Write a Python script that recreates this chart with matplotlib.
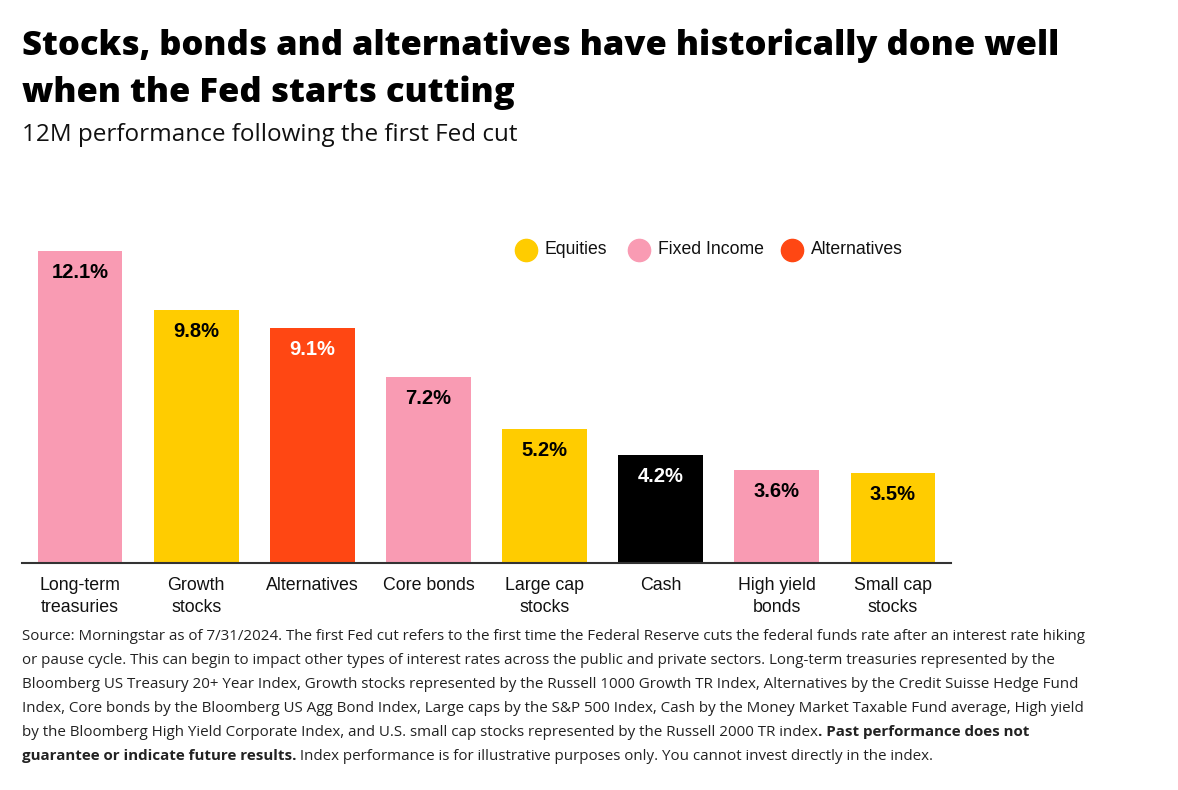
import matplotlib
matplotlib.use("Agg")
import matplotlib.pyplot as plt
from matplotlib.lines import Line2D

categories = ["Long-term\ntreasuries", "Growth\nstocks", "Alternatives", "Core bonds",
              "Large cap\nstocks", "Cash", "High yield\nbonds", "Small cap\nstocks"]
values = [12.1, 9.8, 9.1, 7.2, 5.2, 4.2, 3.6, 3.5]
groups = ["Fixed Income", "Equities", "Alternatives", "Fixed Income",
          "Equities", "Cash", "Fixed Income", "Equities"]
legend_items = ["Equities", "Fixed Income", "Alternatives"]

colors = {"Equities": "#FFCC00", "Fixed Income": "#F99BB3",
          "Alternatives": "#FF4713", "Cash": "#000000"}
label_colors = {"Equities": "black", "Fixed Income": "black",
                "Alternatives": "white", "Cash": "white"}

W, H = 1178, 790
fig = plt.figure(figsize=(W / 100, H / 100), dpi=100)
fig.patch.set_facecolor("white")

ax = fig.add_axes([22 / W, (H - 563) / H, 929 / W, (563 - 227.7) / H])
x = range(len(values))
ax.bar(x, values, width=0.73, color=[colors[g] for g in groups])
ax.set_xlim(-0.5, len(values) - 0.5)
ax.set_ylim(0, 13)

for i, v in enumerate(values):
    ax.annotate(f"{v}%", (i, v), xytext=(0, -15.5), textcoords="offset points",
                ha="center", va="center", fontsize=14.5, fontweight="bold",
                family="Liberation Sans", color=label_colors[groups[i]])

for s in ["top", "right", "left"]:
    ax.spines[s].set_visible(False)
ax.spines["bottom"].set_color("#333333")
ax.spines["bottom"].set_linewidth(1.5)
ax.set_yticks([])
ax.set_xticks(list(x))
ax.set_xticklabels(categories, fontsize=12.8, family="Liberation Sans",
                   color="#111111", linespacing=1.4)
ax.tick_params(axis="x", length=0, pad=10)

# legend
leg_x = [526, 639, 792]
for name, lx in zip(legend_items, leg_x):
    fig.add_artist(Line2D([lx / W], [(H - 250) / H], marker="o", markersize=16,
                          color=colors[name], transform=fig.transFigure, linestyle="none"))
    fig.text((lx + 19) / W, (H - 250) / H, name, fontsize=12.7, family="Liberation Sans",
             color="#111111", va="center", ha="left")

# title
fig.text(22 / W, (H - 55) / H, "Stocks, bonds and alternatives have historically done well",
         fontsize=24.8, fontweight=800, family="Open Sans", va="baseline", ha="left", color="black")
fig.text(22 / W, (H - 102) / H, "when the Fed starts cutting",
         fontsize=24.8, fontweight=800, family="Open Sans", va="baseline", ha="left", color="black")
fig.text(22 / W, (H - 141) / H, "12M performance following the first Fed cut",
         fontsize=17.5, family="Open Sans", va="baseline", ha="left", color="#111111")

# footnote
foot = [
    [("Source: Morningstar as of 7/31/2024. The first Fed cut refers to the first time the Federal Reserve cuts the federal funds rate after an interest rate hiking", "normal")],
    [("or pause cycle. This can begin to impact other types of interest rates across the public and private sectors. Long-term treasuries represented by the", "normal")],
    [("Bloomberg US Treasury 20+ Year Index, Growth stocks represented by the Russell 1000 Growth TR Index, Alternatives by the Credit Suisse Hedge Fund", "normal")],
    [("Index, Core bonds by the Bloomberg US Agg Bond Index, Large caps by the S&P 500 Index, Cash by the Money Market Taxable Fund average, High yield", "normal")],
    [("by the Bloomberg High Yield Corporate Index, and U.S. small cap stocks represented by the Russell 2000 TR index", "normal"),
     (". Past performance does not", "bold")],
    [("guarantee or indicate future results.", "bold"),
     (" Index performance is for illustrative purposes only. You cannot invest directly in the index.", "normal")],
]
renderer = fig.canvas.get_renderer()
for k, parts in enumerate(foot):
    y = (H - 636 - 24 * k) / H
    xpos = 22 / W
    for txt, wt in parts:
        t = fig.text(xpos, y, txt, fontsize=10.9, fontweight=wt, family="Open Sans",
                     va="center", ha="left", color="#222222")
        bb = t.get_window_extent(renderer=renderer)
        xpos = bb.x1 / W

fig.savefig("out.png", dpi=100, facecolor="white")
